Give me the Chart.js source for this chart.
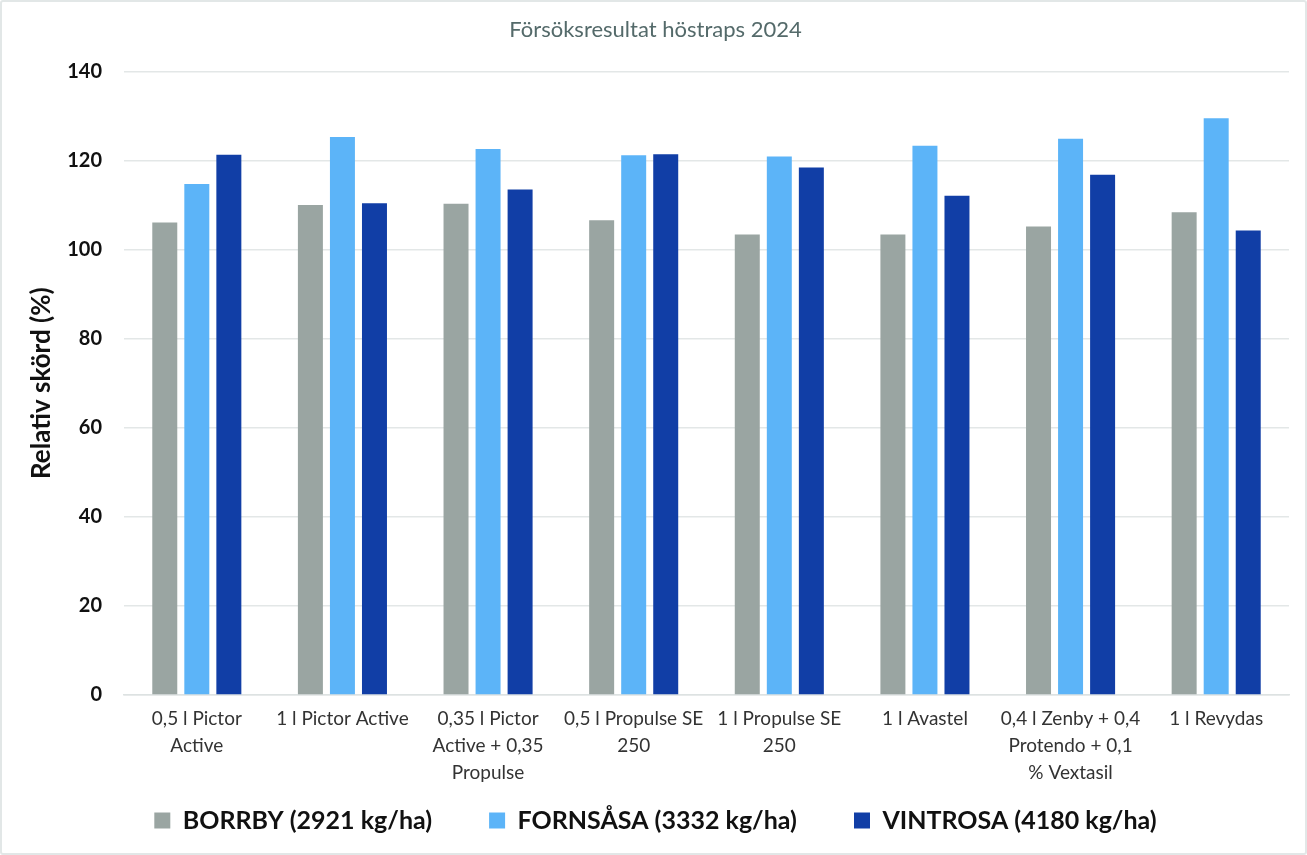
<!DOCTYPE html>
<html>
<head>
<meta charset="utf-8">
<script src="https://cdn.jsdelivr.net/npm/chart.js@4/dist/chart.umd.min.js"></script>
<style>
  body { margin: 0; background: #fff; }
  #wrap {
    position: absolute; left: 0; top: 0;
    width: 1307px; height: 855px;
    box-sizing: border-box;
    border: 2px solid #e2e7e7;
    border-radius: 3px;
  }
  #chart { display: block; }
</style>
</head>
<body>
<div id="wrap"><canvas id="chart" width="1303" height="851"></canvas></div>
<script>
// behandlingar (x-axel)
var categories = [
  ["0,5 l Pictor", "Active"],
  "1 l Pictor Active",
  ["0,35 l Pictor", "Active + 0,35", "Propulse"],
  ["0,5 l Propulse SE", "250"],
  ["1 l Propulse SE", "250"],
  "1 l Avastel",
  ["0,4 l Zenby + 0,4", "Protendo + 0,1", "% Vextasil"],
  "1 l Revydas"
];

// relativ skörd (%) per plats
var borrby   = [106.1, 110.0, 110.3, 106.6, 103.4, 103.4, 105.2, 108.4];
var fornsasa = [114.7, 125.3, 122.6, 121.2, 120.9, 123.3, 124.9, 129.5];
var vintrosa = [121.3, 110.4, 113.5, 121.4, 118.4, 112.1, 116.8, 104.3];

var seriesNames = ["BORRBY (2921 kg/ha)", "FORNSÅSA (3332 kg/ha)", "VINTROSA (4180 kg/ha)"];
var seriesColors = ["#9aa5a2", "#5cb4f8", "#113ea6"];

var yMin = 0, yMax = 140, yStep = 20;

var fontFam = "Lato, 'Noto Sans', sans-serif";

new Chart(document.getElementById("chart"), {
  type: "bar",
  data: {
    labels: categories,
    datasets: [
      { label: seriesNames[0], data: borrby, backgroundColor: seriesColors[0] },
      { label: seriesNames[1], data: fornsasa, backgroundColor: seriesColors[1] },
      { label: seriesNames[2], data: vintrosa, backgroundColor: seriesColors[2] }
    ]
  },
  options: {
    responsive: false,
    animation: false,
    datasets: {
      bar: { barPercentage: 0.78, categoryPercentage: 0.66 }
    },
    layout: { padding: { left: 20, right: 16, top: 0, bottom: 10 } },
    plugins: {
      title: {
        display: true,
        text: "Försöksresultat höstraps 2024",
        color: "#546a6a",
        font: { family: fontFam, size: 22, weight: "normal" },
        padding: { top: 15, bottom: 28 }
      },
      legend: {
        position: "bottom",
        labels: {
          boxWidth: 16,
          boxHeight: 16,
          padding: 57,
          color: "#111",
          font: { family: fontFam, size: 25, weight: "bold" }
        }
      },
      tooltip: { enabled: false }
    },
    scales: {
      x: {
        grid: { display: false, drawTicks: false },
        border: { display: true, color: "#dde2e2", width: 1.5 },
        ticks: {
          maxRotation: 0,
          autoSkip: false,
          padding: 10,
          color: "#333",
          font: { family: fontFam, size: 19, lineHeight: 1.42 }
        },
        // let the 3-line labels hang into the legend's top padding, like the original
        afterFit: function (scale) {
          scale.height = 56;
          scale._computeLabelArea = function () { return undefined; };
        }
      },
      y: {
        min: yMin,
        max: yMax,
        grid: { color: "#e3e7e7", lineWidth: 1.5, drawTicks: false },
        border: { display: false },
        ticks: {
          stepSize: yStep,
          padding: 22,
          color: "#111",
          font: { family: fontFam, size: 20, weight: "bold" }
        },
        title: {
          display: true,
          text: "Relativ skörd (%)",
          color: "#111",
          font: { family: fontFam, size: 26, weight: "bold" },
          padding: { top: 4, bottom: -12 }
        }
      }
    }
  }
});
</script>
</body>
</html>
